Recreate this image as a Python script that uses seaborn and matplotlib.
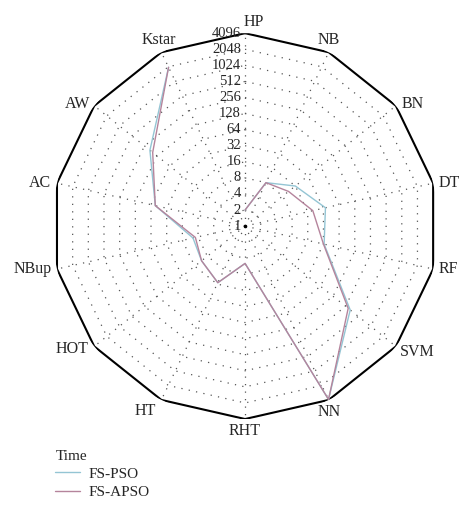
import numpy as np
import pandas as pd
import matplotlib
matplotlib.use("Agg")
import matplotlib.pyplot as plt
from matplotlib.transforms import offset_copy
import seaborn as sns

sns.set_style("white")
plt.rcParams['font.family'] = ['Liberation Serif', 'DejaVu Serif']

# classifiers around the radar, clockwise from the top
categories = ["HP", "NB", "BN", "DT", "RF", "SVM", "NN", "RHT",
              "HT", "HOT", "NBup", "AC", "AW", "Kstar"]
# time values (log2 radial scale)
fs_pso = [2, 8, 16, 35, 33, 330, 4000, 5, 15, 11, 10, 53, 190, 2000]
fs_apso = [2, 8, 11, 20, 32, 295, 4000, 5, 15, 11, 9, 53, 163, 2000]
tick_values = [2 ** k for k in range(13)]
tick_labels = [str(v) for v in tick_values]

n = len(categories)
theta = np.arange(n) * 2 * np.pi / n
theta_closed = np.append(theta, theta[0])

rows = []
for name, vals in [("FS-PSO", fs_pso), ("FS-APSO", fs_apso)]:
    for t, v in zip(theta_closed, vals + vals[:1]):
        rows.append({"theta": t, "value": v, "Time": name})
df = pd.DataFrame(rows)

fig = plt.figure(figsize=(4.74, 5.18), dpi=100)
ax = fig.add_axes([0.110, 0.191, 0.814, 0.745], projection="polar")
ax.set_theta_zero_location("N")
ax.set_theta_direction(-1)
ax.set_rscale("log", base=2)
ax.set_rlim(1, 4096)
ax.grid(False)
ax.set_xticks([])
ax.set_yticks([])
ax.spines["polar"].set_visible(False)

# dotted polygon rings and spokes
for v in tick_values[1:-1]:
    ax.plot(theta_closed, [v] * (n + 1), color="#555555", lw=0.9,
            ls=(0, (1, 5)), zorder=1)
for t in theta:
    ax.plot([t, t], [1, 4096], color="#555555", lw=0.9,
            ls=(0, (1, 5)), zorder=1)
# outer frame
ax.plot(theta_closed, [4096] * (n + 1), color="black", lw=1.5, zorder=2)
ax.plot([0], [1], marker="o", ms=1.6, color="black")

sns.lineplot(data=df, x="theta", y="value", hue="Time", sort=False,
             palette={"FS-PSO": "#94c5d4", "FS-APSO": "#b5849c"},
             lw=1.0, ax=ax, zorder=3)
ax.set_xlabel("")
ax.set_ylabel("")
ax.set_rlim(1, 4096)

# radial tick labels along the HP axis
tr = offset_copy(ax.transData, fig=fig, x=-3, y=0, units="points")
for v, lab in zip(tick_values, tick_labels):
    ax.text(0, v, lab, transform=tr, ha="right", va="center", fontsize=10.5)

# category labels just outside the frame
label_pos = {
    "HP": ("center", "bottom", 6, 2), "NB": ("center", "bottom", 0, 3),
    "BN": ("left", "center", 4, 1), "DT": ("left", "center", 4, 0),
    "RF": ("left", "center", 4, 0), "SVM": ("left", "center", 3, -4),
    "NN": ("center", "top", 0, -3), "RHT": ("center", "top", 0, -3),
    "HT": ("right", "top", -4, -2), "HOT": ("right", "center", -4, -2),
    "NBup": ("right", "center", -4, 0), "AC": ("right", "center", -4, 0),
    "AW": ("right", "center", -3, 1), "Kstar": ("center", "bottom", -2, 3),
}
for t, lab in zip(theta, categories):
    ha, va, ox, oy = label_pos[lab]
    tl = offset_copy(ax.transData, fig=fig, x=ox, y=oy, units="points")
    ax.text(t, 4096, lab, transform=tl, ha=ha, va=va, fontsize=11.5)

sns.move_legend(ax, "upper left", bbox_to_anchor=(0.104, 0.144),
                bbox_transform=fig.transFigure, frameon=False,
                alignment="left", fontsize=11, title_fontsize=11,
                handlelength=1.6, handletextpad=0.6, labelspacing=0.3,
                borderaxespad=0)

fig.savefig("out.png", dpi=100)
